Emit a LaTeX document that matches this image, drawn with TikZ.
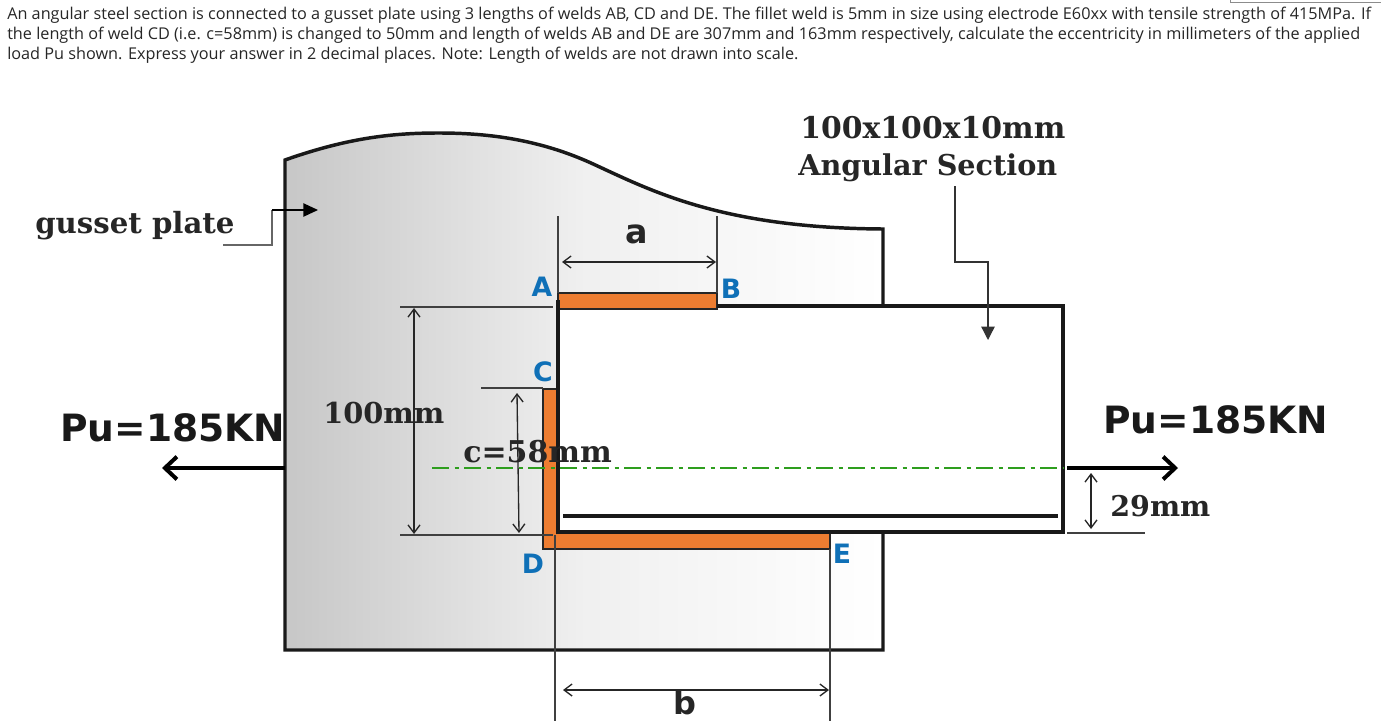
\documentclass[tikz,border=0pt]{standalone}
\usepackage{fontspec}
\usepackage{tikz}
\usetikzlibrary{arrows.meta}
\setmainfont{Open Sans}
\newfontfamily\labelserif{DejaVu Serif}
\newfontfamily\labelsans{DejaVu Sans}
\definecolor{weldorange}{HTML}{ED7D31}
\definecolor{letterblue}{HTML}{0F70B7}
\definecolor{axisgreen}{HTML}{2E9E1E}
\tikzset{
  txtline/.style={anchor=base west, inner sep=0pt, font=\fontsize{12.18}{14}\selectfont, text=black!85},
  serifbold/.style={inner sep=0pt, anchor=base west, text=black!85},
  loadlabel/.style={inner sep=0pt, anchor=base west, font=\labelsans\bfseries\fontsize{28.2}{32}\selectfont, text=black!90},
  weldletter/.style={inner sep=0pt, font=\labelsans\bfseries\fontsize{20}{24}\selectfont, text=letterblue},
  plateline/.style={line width=2.6pt, black!90},
  thinline/.style={line width=1pt, black!75},
  dimarrow/.style={line width=1pt, black!85, {Straight Barb[length=6pt,width=9pt]}-{Straight Barb[length=6pt,width=9pt]}},
  loadarrow/.style={line width=3.2pt, black, -{Straight Barb[length=9pt,width=17pt,line width=3pt]}},
  weld/.style={draw=black!85, line width=1pt, fill=weldorange},
}
\begin{document}
\begin{tikzpicture}[x=0.75pt, y=-0.75pt]
\useasboundingbox (0,0) rectangle (1381,721);

% text above the figure
\draw[black!45, line width=0.6pt] (1230,0) -- (1230,2.5) -- (1381,2.5);
\node[txtline] (txta) at (7,19) {An angular steel section is connected to a gusset plate using 3 lengths of welds AB, CD and DE. The fillet weld is 5mm in size using electrode E60xx with tensile strength of 415MPa. If};
\node[txtline] (txtb) at (7,39) {the length of weld CD (i.e. c=58mm) is changed to 50mm and length of welds AB and DE are 307mm and 163mm respectively, calculate the eccentricity in millimeters of the applied};
\node[txtline] (txtc) at (7,59) {load Pu shown. Express your answer in 2 decimal places. Note: Length of welds are not drawn into scale.};

% gusset plate
\shade[left color=black!22, right color=white, middle color=black!6, shading angle=90]
  (285,160) .. controls (350,137) and (395,133) .. (439,133)
  .. controls (490,133) and (540,140) .. (591,163)
  .. controls (650,190) and (720,228) .. (883,229) -- (883,650) -- (285,650) -- cycle;
\draw[plateline] (883,306) -- (883,229) .. controls (720,228) and (650,190) .. (591,163)
  .. controls (540,140) and (490,133) .. (439,133)
  .. controls (395,133) and (350,137) .. (285,160) -- (285,650) -- (883,650) -- (883,532);

% angular section
\fill[white] (558,306) rectangle (1063,532);

% welds
\draw[weld] (558,293) rectangle (717,309);
\draw[weld] (543,389) -- (557,389) -- (557,533) -- (830,533) -- (830,549) -- (543,549) -- cycle;

\draw[plateline] (717,306) -- (1063,306) -- (1063,532) -- (558,532) -- (558,300);
\draw[plateline] (563,516) -- (1058,516);

% extension lines
\coordinate (a1) at (558,216);
\coordinate (a2) at (558,293);
\coordinate (b1) at (717,216);
\coordinate (b2) at (717,293);
\coordinate (d1) at (555,535);
\coordinate (d2) at (555,721);
\coordinate (e1) at (830,549);
\coordinate (e2) at (830,721);
\coordinate (h1) at (400,307);
\coordinate (h2) at (553,307);
\coordinate (h3) at (400,535);
\coordinate (h4) at (553,535);
\coordinate (k1) at (481,388);
\coordinate (k2) at (543,388);
\coordinate (m1) at (1067,533);
\coordinate (m2) at (1145,533);
\foreach \p/\q in {a1/a2, b1/b2, d1/d2, e1/e2, h1/h2, h3/h4, k1/k2, m1/m2}
  \draw[thinline] (\p) -- (\q);

% dimensions
\coordinate (adim1) at (562,262);
\coordinate (adim2) at (716,262);
\coordinate (bdim1) at (563,690);
\coordinate (bdim2) at (829,690);
\coordinate (hdim1) at (414,308);
\coordinate (hdim2) at (414,534);
\coordinate (cdim1) at (517,393);
\coordinate (cdim2) at (519,533);
\coordinate (edim1) at (1091,473);
\coordinate (edim2) at (1091,529);
\foreach \p/\q in {adim1/adim2, bdim1/bdim2, hdim1/hdim2, cdim1/cdim2, edim1/edim2}
  \draw[dimarrow] (\p) -- (\q);

% load line
\coordinate (axisl) at (432,468);
\coordinate (axisr) at (1064,468);
\draw[axisgreen, line width=0.9pt, dash pattern=on 13pt off 4pt on 3pt off 4pt] (axisl) -- (axisr);
\coordinate (loadla) at (285,468);
\coordinate (loadlb) at (162,468);
\coordinate (loadra) at (1067,468);
\coordinate (loadrb) at (1178,468);
\draw[loadarrow] (loadla) -- (loadlb);
\draw[loadarrow] (loadra) -- (loadrb);

% labels
\node[serifbold, font=\labelserif\bfseries\fontsize{22.4}{26}\selectfont] (lblsize) at (800,138) {100x100x10mm};
\node[serifbold, font=\labelserif\bfseries\fontsize{21.5}{26}\selectfont] (lblsec) at (798,175) {Angular Section};
\node[serifbold, font=\labelserif\bfseries\fontsize{21.9}{26}\selectfont] (lblgusset) at (35,233) {gusset plate};
\node[loadlabel] (lblpl) at (60,441) {Pu=185KN};
\node[loadlabel] (lblpr) at (1103,433) {Pu=185KN};
\node[serifbold, font=\labelserif\bfseries\fontsize{21.6}{26}\selectfont] (lblh) at (323,423) {100mm};
\node[serifbold, font=\labelserif\bfseries\fontsize{22.5}{26}\selectfont] (lblc) at (463,462) {c=58mm};
\node[serifbold, font=\labelserif\bfseries\fontsize{21.4}{26}\selectfont] (lble) at (1110,516) {29mm};
\node[serifbold, anchor=center, font=\labelsans\bfseries\fontsize{25}{30}\selectfont] (lbla) at (637,234) {a};
\node[serifbold, anchor=center, font=\labelsans\bfseries\fontsize{24}{28}\selectfont] (lblb) at (685,703) {b};
\foreach \n/\t/\x/\y in {la/A/542/287, lb/B/731/289, lc/C/543/372, ld/D/533/564, le/E/842/554}
  \node[weldletter] (\n) at (\x,\y) {\t};

% leaders
\coordinate (gl1) at (223,245);
\coordinate (gl2) at (272,245);
\coordinate (gl3) at (272,210);
\coordinate (gl4) at (318,210);
\draw[black!60, line width=1.2pt] (gl1) -- (gl2) -- (gl3);
\draw[black, line width=1pt, -{Triangle[length=11pt,width=10pt]}] (gl3) -- (gl4);
\coordinate (sl1) at (955,186);
\coordinate (sl2) at (955,262);
\coordinate (sl3) at (988,262);
\coordinate (sl4) at (988,340);
\draw[black!80, line width=1pt, -{Triangle[length=10pt,width=10pt]}] (sl1) -- (sl2) -- (sl3) -- (sl4);
\end{tikzpicture}
\end{document}
